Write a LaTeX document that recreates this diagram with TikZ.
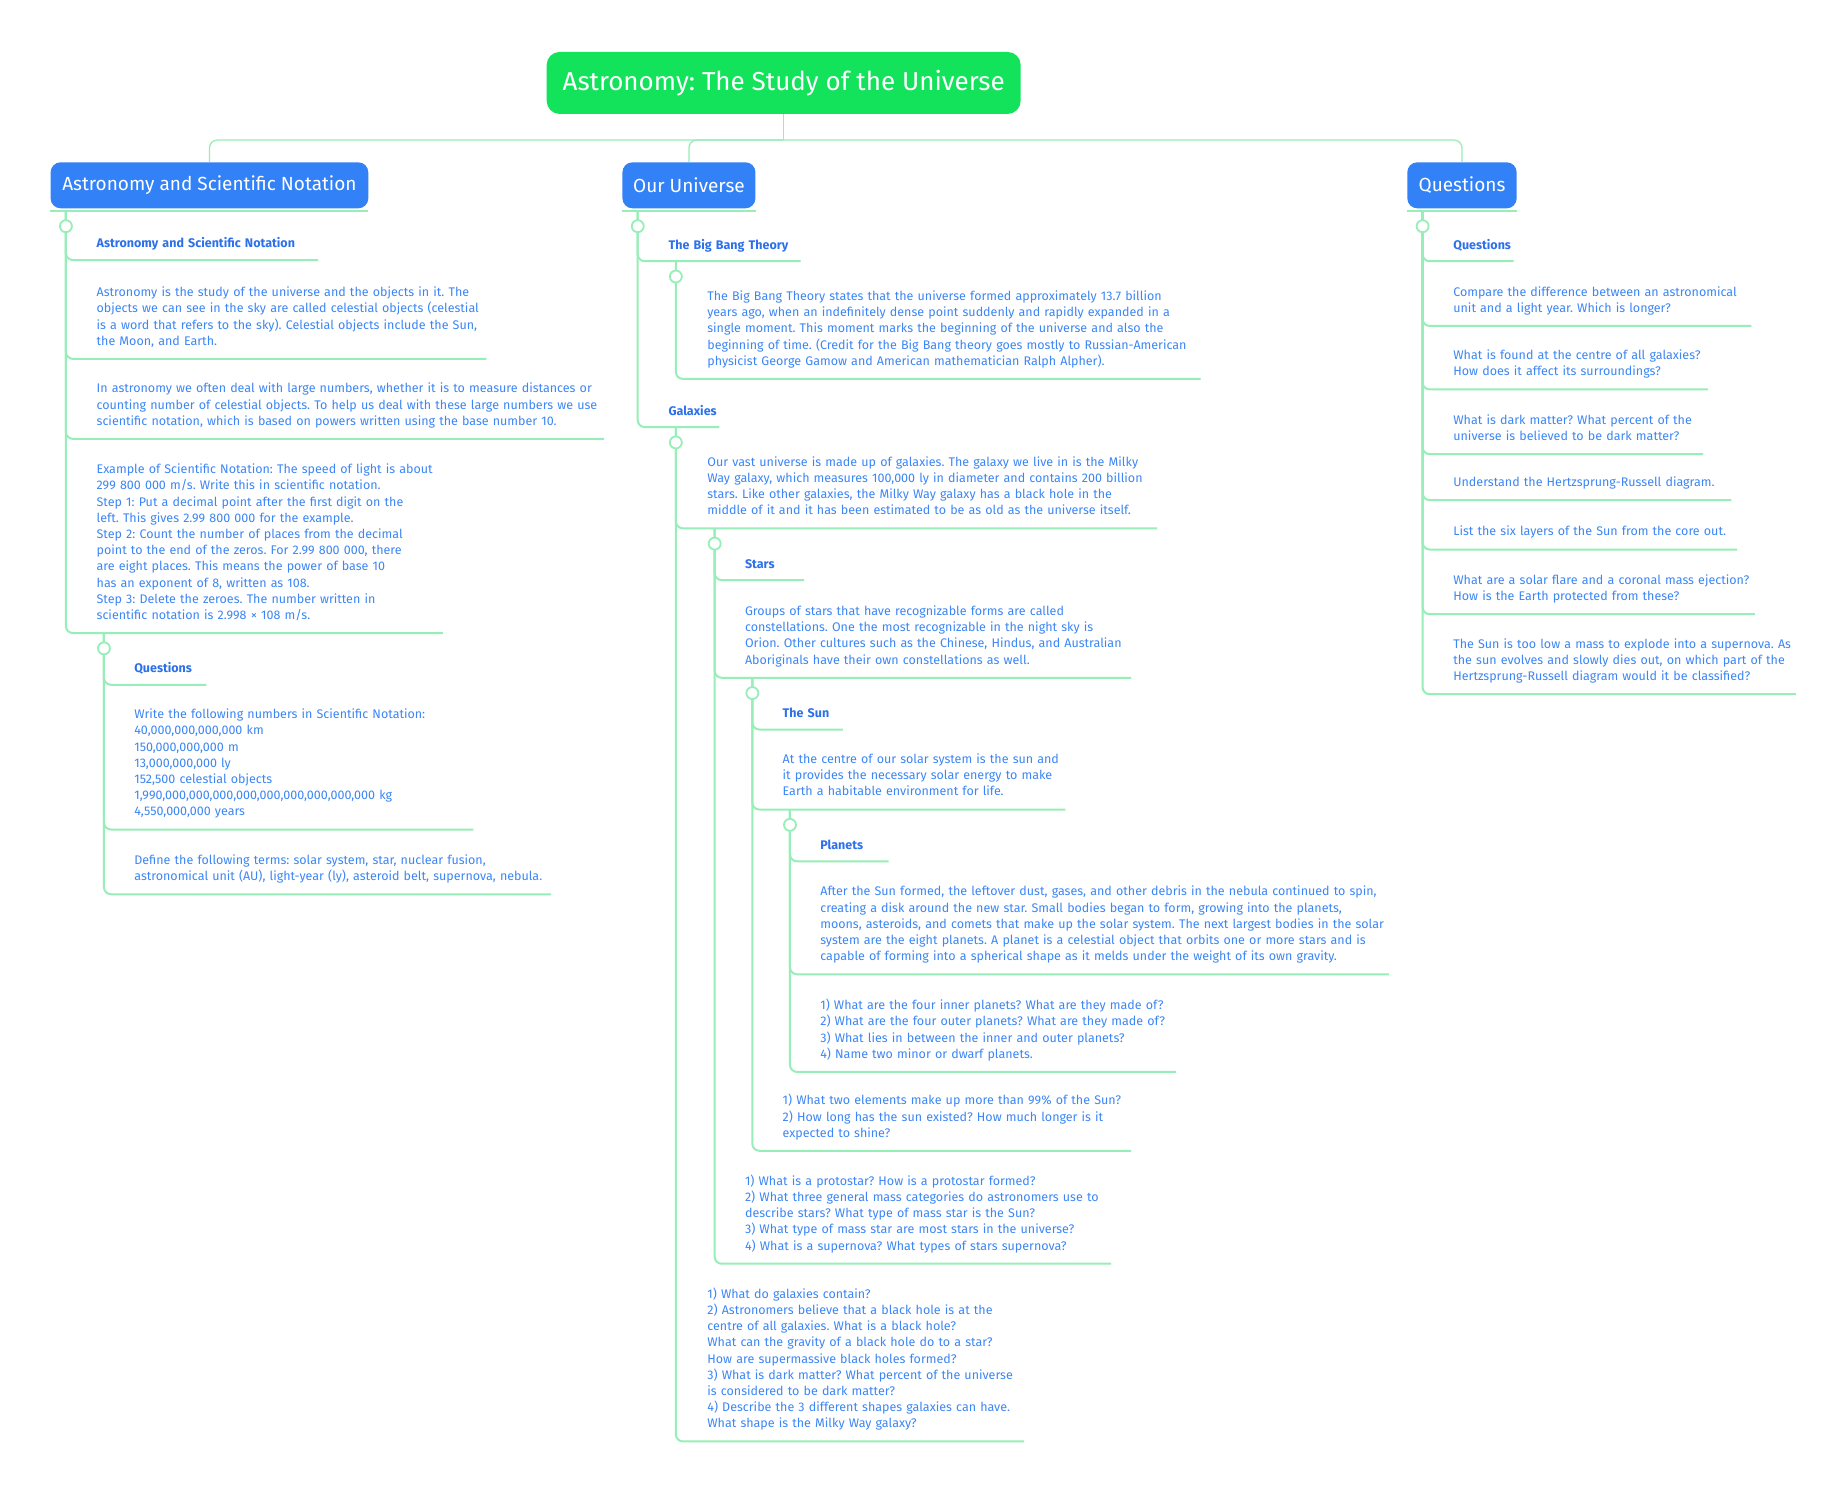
\documentclass[tikz,border=0pt]{standalone}
\usepackage{fontspec}
\setmainfont{Fira Sans}
\usepackage{xcolor}
\usepackage{tikz}
\definecolor{rootgreen}{HTML}{12E35B}
\definecolor{mainblue}{HTML}{3381F7}
\definecolor{mint}{HTML}{98EEB8}
\definecolor{txtblue}{HTML}{3C86F5}
\definecolor{ttlblue}{HTML}{2C70EA}
\newcommand{\bodyfont}{\fontsize{12.5}{16.2}\selectfont}
\frenchspacing

\begin{document}
\begin{tikzpicture}[
  x=1.1767pt, y=-1.1767pt,
  rootbox/.style={
    fill=rootgreen, text=white, rounded corners=13pt,
    minimum height=62pt, minimum width=474pt,
    font=\fontsize{26}{30}\selectfont
  },
  mainbox/.style={
    fill=mainblue, text=white, rounded corners=10pt,
    minimum height=46pt, font=\fontsize{19}{22}\selectfont
  },
  txt/.style={
    anchor=south west, inner xsep=0pt, inner ysep=8.5pt, align=left,
    text=txtblue, font=\bodyfont,
    execute at begin node=\strut, execute at end node=\strut
  },
  ttl/.style={txt, inner ysep=7pt, text=ttlblue, font=\bodyfont\bfseries},
  branch/.style={draw=mint, line width=2pt, rounded corners=7pt},
  stem/.style={draw=mint, line width=1.3pt, rounded corners=8pt},
  knob/.style={circle, draw=mint, line width=1.8pt, fill=white,
    minimum size=12pt, inner sep=0pt}
]
\path[use as bounding box] (0,0) rectangle (1568,1267);
\fill[white] (0,0) rectangle (1568,1267);

% root and main topics
\node[rootbox] (root) at (666,70.5) {Astronomy: The Study of the Universe};
\coordinate (hub) at (666,119);
\node[mainbox, minimum width=317.7pt] (m1) at (178,157.5) {Astronomy and Scientific Notation};
\node[mainbox, minimum width=133pt] (m2) at (585.5,157.5) {Our Universe};
\node[mainbox, minimum width=109.4pt] (m3) at (1242.5,157.5) {Questions};

\draw[stem] (root.south) -- (hub);
\draw[stem] (m1.north) |- (hub) -| (m3.north);
\draw[stem] (hub) -| (m2.north);

\foreach \m in {m1,m2,m3}
  \draw[branch] ([yshift=-2.4pt]\m.south west) -- ([yshift=-2.4pt]\m.south east);

% left branch
\coordinate (l0) at ([xshift=15.5pt,yshift=-2.4pt]m1.south west);
\node[ttl, text width=221.2pt] (la) at (82,221) {Astronomy and Scientific Notation};
\node[txt, text width=389.5pt] (lb) at (82,305) {Astronomy is the study of the universe and the objects in it. The\\objects we can see in the sky are called celestial objects (celestial\\is a word that refers to the sky). Celestial objects include the Sun,\\the Moon, and Earth.};
\node[txt, text width=507.2pt] (lc) at (82,373) {In astronomy we often deal with large numbers, whether it is to measure distances or\\counting number of celestial objects. To help us deal with these large numbers we use\\scientific notation, which is based on powers written using the base number 10.};
\node[txt, text width=345.9pt] (ld) at (82,538) {Example of Scientific Notation: The speed of light is about\\299 800 000 m/s. Write this in scientific notation.\\Step 1: Put a decimal point after the first digit on the\\left. This gives 2.99 800 000 for the example.\\Step 2: Count the number of places from the decimal\\point to the end of the zeros. For 2.99 800 000, there\\are eight places. This means the power of base 10\\has an exponent of 8, written as 108.\\Step 3: Delete the zeroes. The number written in\\scientific notation is 2.998 × 108 m/s.};
\coordinate (l1) at ([xshift=7.5pt]ld.south west);
\node[ttl, text width=71.8pt] (le) at (114,582) {Questions};
\node[txt, text width=338.9pt] (lf) at (114,705) {Write the following numbers in Scientific Notation:\\40,000,000,000,000 km\\150,000,000,000 m\\13,000,000,000 ly\\152,500 celestial objects\\1,990,000,000,000,000,000,000,000,000,000 kg\\4,550,000,000 years};
\node[txt, text width=416.6pt] (lg) at (114,760) {Define the following terms: solar system, star, nuclear fusion,\\astronomical unit (AU), light-year (ly), asteroid belt, supernova, nebula.};

\foreach \n in {la,lb,lc,ld} \draw[branch] (l0) |- (\n.south east);
\foreach \n in {le,lf,lg} \draw[branch] (l1) |- (\n.south east);

% middle branch
\coordinate (u0) at ([xshift=15.5pt,yshift=-2.4pt]m2.south west);
\node[ttl, text width=131.8pt] (ua) at (568,222) {The Big Bang Theory};
\coordinate (u1) at ([xshift=7.5pt]ua.south west);
\node[txt, text width=493pt] (ub) at (601,322) {The Big Bang Theory states that the universe formed approximately 13.7 billion\\years ago, when an indefinitely dense point suddenly and rapidly expanded in a\\single moment. This moment marks the beginning of the universe and also the\\beginning of time. (Credit for the Big Bang theory goes mostly to Russian-American\\physicist George Gamow and American mathematician Ralph Alpher).};
\node[ttl, text width=50.6pt] (uc) at (568,363) {Galaxies};
\coordinate (u2) at ([xshift=7.5pt]uc.south west);
\node[txt, text width=449.5pt] (ud) at (601,449) {Our vast universe is made up of galaxies. The galaxy we live in is the Milky\\Way galaxy, which measures 100,000 ly in diameter and contains 200 billion\\stars. Like other galaxies, the Milky Way galaxy has a black hole in the\\middle of it and it has been estimated to be as old as the universe itself.};
\coordinate (u3) at ([xshift=7.5pt]ud.south west);
\node[ttl, text width=58.8pt] (ue) at (633,493) {Stars};
\node[txt, text width=386pt] (uf) at (633,576) {Groups of stars that have recognizable forms are called\\constellations. One the most recognizable in the night sky is\\Orion. Other cultures such as the Chinese, Hindus, and Australian\\Aboriginals have their own constellations as well.};
\coordinate (u4) at ([xshift=7.5pt]uf.south west);
\node[ttl, text width=60pt] (ug) at (665,620) {The Sun};
\node[txt, text width=282.4pt] (uh) at (665,688) {At the centre of our solar system is the sun and\\it provides the necessary solar energy to make\\Earth a habitable environment for life.};
\coordinate (u5) at ([xshift=7.5pt]uh.south west);
\node[ttl, text width=68.2pt] (ui) at (697,732) {Planets};
\node[txt, text width=568.3pt] (uj) at (697,828) {After the Sun formed, the leftover dust, gases, and other debris in the nebula continued to spin,\\creating a disk around the new star. Small bodies began to form, growing into the planets,\\moons, asteroids, and comets that make up the solar system. The next largest bodies in the solar\\system are the eight planets. A planet is a celestial object that orbits one or more stars and is\\capable of forming into a spherical shape as it melds under the weight of its own gravity.};
\node[txt, text width=355.4pt] (uk) at (697,911) {1) What are the four inner planets? What are they made of?\\2) What are the four outer planets? What are they made of?\\3) What lies in between the inner and outer planets?\\4) Name two minor or dwarf planets.};
\node[txt, text width=348.3pt] (ul) at (665,978) {1) What two elements make up more than 99\% of the Sun?\\2) How long has the sun existed? How much longer is it\\expected to shine?};
\node[txt, text width=366pt] (um) at (633,1074) {1) What is a protostar? How is a protostar formed?\\2) What three general mass categories do astronomers use to\\describe stars? What type of mass star is the Sun?\\3) What type of mass star are most stars in the universe?\\4) What is a supernova? What types of stars supernova?};
\node[txt, text width=316.5pt] (un) at (601,1225) {1) What do galaxies contain?\\2) Astronomers believe that a black hole is at the\\centre of all galaxies. What is a black hole?\\What can the gravity of a black hole do to a star?\\How are supermassive black holes formed?\\3) What is dark matter? What percent of the universe\\is considered to be dark matter?\\4) Describe the 3 different shapes galaxies can have.\\What shape is the Milky Way galaxy?};

\foreach \n in {ua,uc} \draw[branch] (u0) |- (\n.south east);
\draw[branch] (u1) |- (ub.south east);
\foreach \n in {ud,un} \draw[branch] (u2) |- (\n.south east);
\foreach \n in {ue,uf,um} \draw[branch] (u3) |- (\n.south east);
\foreach \n in {ug,uh,ul} \draw[branch] (u4) |- (\n.south east);
\foreach \n in {ui,uj,uk} \draw[branch] (u5) |- (\n.south east);

% right branch
\coordinate (r0) at ([xshift=15.5pt,yshift=-2.4pt]m3.south west);
\node[ttl, text width=60pt] (ra) at (1235,222) {Questions};
\node[txt, text width=297.7pt] (rb) at (1235,277) {Compare the difference between an astronomical\\unit and a light year. Which is longer?};
\node[txt, text width=254.2pt] (rc) at (1235,331) {What is found at the centre of all galaxies?\\How does it affect its surroundings?};
\node[txt, text width=249.5pt] (rd) at (1235,386) {What is dark matter? What percent of the\\universe is believed to be dark matter?};
\node[txt, text width=277.7pt] (re) at (1235,425) {Understand the Hertzsprung-Russell diagram.};
\node[txt, text width=283.6pt] (rf) at (1235,467) {List the six layers of the Sun from the core out.};
\node[txt, text width=301.2pt] (rg) at (1235,522) {What are a solar flare and a coronal mass ejection?\\How is the Earth protected from these?};
\node[txt, text width=342.4pt] (rh) at (1235,590) {The Sun is too low a mass to explode into a supernova. As\\the sun evolves and slowly dies out, on which part of the\\Hertzsprung-Russell diagram would it be classified?};

\foreach \n in {ra,rb,rc,rd,re,rf,rg,rh} \draw[branch] (r0) |- (\n.south east);

% collapse knobs
\foreach \c in {l0,l1,u0,u1,u2,u3,u4,u5,r0}
  \node[knob] (k\c) at ([yshift=-15.3pt]\c) {};
\end{tikzpicture}
\end{document}
